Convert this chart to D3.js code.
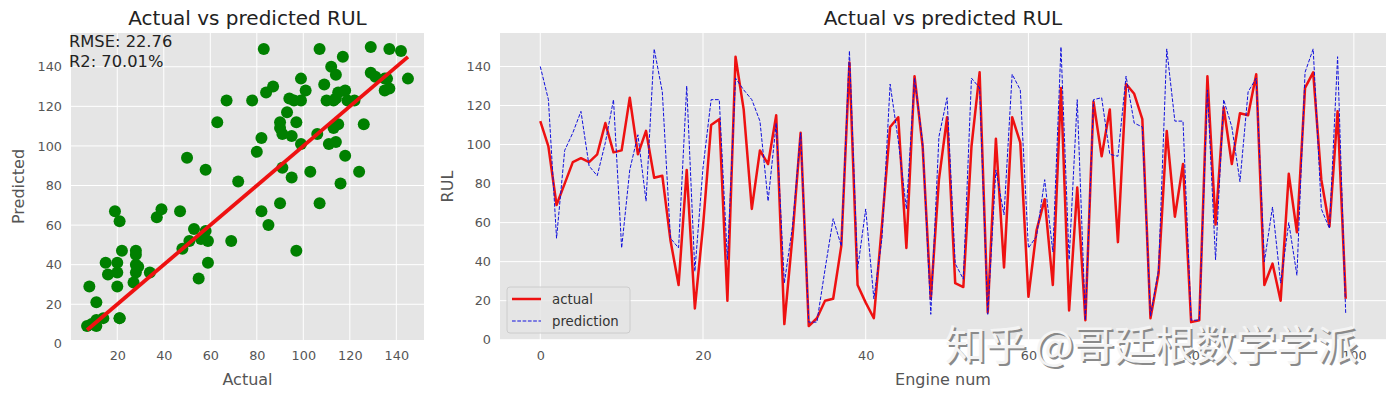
<!DOCTYPE html>
<html><head><meta charset="utf-8">
<script src="https://cdn.jsdelivr.net/npm/d3@7"></script>
<style>
body{margin:0;background:#fff;}
svg{display:block;font-family:"DejaVu Sans",sans-serif;}
</style></head>
<body><svg id="c" width="1397" height="398"></svg>
<script>
const actual = [112,99,69,80,91,93,91,95,111,96,
  97,124,95,107,83,84,51,28,87,16,
  58,110,113,20,145,118,67,97,90,115,
  8,53,106,7,11,20,21,48,142,28,
  19,11,59,109,114,47,135,99,21,82,
  114,29,27,99,137,14,103,37,114,101,
  22,56,72,28,129,15,78,10,122,94,
  118,50,131,126,113,11,34,107,63,90,
  9,10,135,59,119,90,116,115,136,28,
  39,20,85,55,129,137,82,58,117,21];
const prediction = [140,123,52,97,106,117,89,84,101,123,
  47,87,105,71,149,127,52,47,130,35,
  88,123,123,41,134,128,123,112,71,111,
  29,58,106,9,9,36,62,48,148,36,
  67,21,52,131,102,67,134,101,13,104,
  124,39,31,134,129,13,87,64,136,128,
  47,53,82,45,150,41,123,10,123,124,
  95,94,135,111,109,12,36,149,112,112,
  10,10,128,41,123,109,81,127,134,40,
  68,29,60,33,137,149,67,57,145,13];
const engines = actual.map((d,i)=>i);
const xTicksLeft = [20,40,60,80,100,120,140];
const yTicks = [0,20,40,60,80,100,120,140];
const xTicksRight = [0,20,40,60,80,100];
const metricLines = ["RMSE: 22.76","R2: 70.01%"];
const titleText = "Actual vs predicted RUL";
const legendLabels = ["actual","prediction"];
const watermark = "知乎 @哥廷根数学学派";

const svg = d3.select("#c");
const BG="#E5E5E5", TXT="#555555";

function pad(ext){const r=ext[1]-ext[0];return [ext[0]-r*0.05, ext[1]+r*0.05];}

function panel(x0,x1,y0,y1,xd,yd,xt,yt,xlabel,ylabel,ylabX){
  const g = svg.append("g");
  const x = d3.scaleLinear().domain(xd).range([x0,x1]);
  const y = d3.scaleLinear().domain(yd).range([y1,y0]);
  g.append("rect").attr("x",x0).attr("y",y0).attr("width",x1-x0).attr("height",y1-y0).attr("fill",BG);
  g.selectAll(".gx").data(xt).join("line").attr("x1",d=>x(d)).attr("x2",d=>x(d)).attr("y1",y0).attr("y2",y1).attr("stroke","#fff").attr("stroke-width",1);
  g.selectAll(".gy").data(yt).join("line").attr("y1",d=>y(d)).attr("y2",d=>y(d)).attr("x1",x0).attr("x2",x1).attr("stroke","#fff").attr("stroke-width",1);
  const ax = d3.axisBottom(x).tickValues(xt).tickSize(0).tickPadding(11).tickFormat(d3.format("d"));
  const ay = d3.axisLeft(y).tickValues(yt).tickSize(0).tickPadding(9).tickFormat(d3.format("d"));
  const gxA = g.append("g").attr("transform",`translate(0,${y1})`).call(ax);
  const gyA = g.append("g").attr("transform",`translate(${x0},0)`).call(ay);
  [gxA,gyA].forEach(a=>{a.select(".domain").remove();a.selectAll("text").attr("fill",TXT).style("font-size","12.8px").style("font-family","DejaVu Sans");});
  g.append("text").attr("x",(x0+x1)/2).attr("y",385).attr("text-anchor","middle").attr("fill",TXT).style("font-size","16px").text(xlabel);
  g.append("text").attr("transform",`translate(${ylabX},${(y0+y1)/2}) rotate(-90)`).attr("text-anchor","middle").attr("fill",TXT).style("font-size","16px").text(ylabel);
  g.append("text").attr("x",(x0+x1)/2).attr("y",25).attr("text-anchor","middle").attr("fill","#222").style("font-size","20px").text(titleText);
  return {g,x,y};
}

// Left scatter
const L = panel(71,424,33,340,pad(d3.extent(actual)),pad(d3.extent(prediction)),xTicksLeft,yTicks,"Actual","Predicted",24);
L.g.selectAll("circle.pt").data(actual).join("circle")
  .attr("cx",d=>L.x(d)).attr("cy",(d,i)=>L.y(prediction[i])).attr("r",6).attr("fill","#008000");
const ext = d3.extent(actual);
L.g.append("line").attr("x1",L.x(ext[0])).attr("y1",L.y(ext[0])).attr("x2",L.x(ext[1])).attr("y2",L.y(ext[1]))
  .attr("stroke","#ee1111").attr("stroke-width",3.8);
L.g.selectAll("text.m").data(metricLines).join("text").attr("x",69).attr("y",(d,i)=>47+i*20)
  .attr("fill","#222").style("font-size","16.3px").text(d=>d);

// Right line chart
const all = actual.concat(prediction);
const R = panel(500,1386,33,340,pad(d3.extent(engines)),pad(d3.extent(all)),xTicksRight,yTicks,"Engine num","RUL",453);
const line = (arr)=>d3.line().x((d,i)=>R.x(i)).y(d=>R.y(d))(arr);
R.g.append("path").attr("d",line(actual)).attr("fill","none").attr("stroke","#ee1111").attr("stroke-width",2.5).attr("stroke-linejoin","round");
R.g.append("path").attr("d",line(prediction)).attr("fill","none").attr("stroke","#1010dd").attr("stroke-width",1).attr("stroke-dasharray","3.7,1.6");

// legend
const lg = R.g.append("g");
lg.append("rect").attr("x",507).attr("y",287).attr("width",123).attr("height",46).attr("rx",3)
  .attr("fill","#E5E5E5").attr("fill-opacity",0.8).attr("stroke","#cccccc");
lg.append("line").attr("x1",512).attr("x2",541).attr("y1",299).attr("y2",299).attr("stroke","#ee1111").attr("stroke-width",2.5);
lg.append("line").attr("x1",512).attr("x2",541).attr("y1",321).attr("y2",321).attr("stroke","#1010dd").attr("stroke-width",1).attr("stroke-dasharray","3.7,1.6");
lg.selectAll("text").data(legendLabels).join("text").attr("x",552).attr("y",(d,i)=>304+i*22)
  .attr("fill","#333").style("font-size","13.3px").text(d=>d);

// watermark
const wm = svg.append("g").style("font-family","'Noto Sans CJK SC'").style("font-size","41px");
wm.append("text").attr("x",947).attr("y",362).attr("fill","#8a8a8a").attr("textLength",413).text(watermark);
wm.append("text").attr("x",945).attr("y",360).attr("fill","#f4f4f4").attr("textLength",413).text(watermark);
</script></body></html>
